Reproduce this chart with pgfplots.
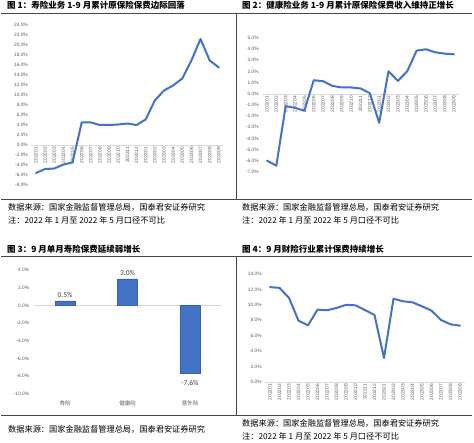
\documentclass[border=0pt]{standalone}
\usepackage{fontspec}
\usepackage{pgfplots}
\pgfplotsset{compat=1.18}
\setmainfont{Liberation Serif}
\newfontfamily\cjk{Noto Sans CJK SC}
\newfontfamily\tickf{Liberation Sans}
\newfontfamily\lblf{Carlito}
\definecolor{lineblue}{RGB}{68,114,196}
\definecolor{tickgray}{RGB}{89,89,89}
\definecolor{zerogray}{RGB}{217,217,217}
\definecolor{framegray}{RGB}{70,70,70}
\definecolor{lblgray}{RGB}{64,64,64}

\pgfplotsset{
  panel/.style={
    scale only axis, anchor=south west,
    axis x line*=middle, axis y line*=left,
    x axis line style={draw=zerogray, line width=0.6pt},
    y axis line style={draw=none},
    major tick length=0pt,
    tick label style={font=\tickf\fontsize{4.8}{5}\selectfont, text=tickgray},
    yticklabel style={inner sep=0pt, anchor=east, xshift=-3.5pt},
    xticklabel style={rotate=90, anchor=east, inner sep=2pt},
    xmin=-0.5, xmax=20.5,
    xtick={0,...,20},
    xticklabels={202201,202202,202203,202204,202205,202206,202207,202208,202209,202210,202211,202212,202301,202302,202303,202304,202305,202306,202307,202308,202309},
  },
  ser/.style={lineblue, line width=2pt, line join=round, line cap=round, mark=none},
}

\begin{document}
\begin{tikzpicture}[x=1pt,y=1pt]
\path[use as bounding box] (0,0) rectangle (474,442);

% frames
\draw[framegray, line width=0.8pt] (1,429) -- (472,429);
\draw[framegray, line width=0.8pt] (1,243) -- (472,243);
\draw[framegray, line width=0.8pt] (236.5,429) -- (236.5,243);
\draw[framegray, line width=0.8pt] (1,185.5) -- (472,185.5);
\draw[framegray, line width=0.8pt] (1,27) -- (472,27);
\draw[framegray, line width=0.8pt] (236.5,185.5) -- (236.5,27);

% titles
\node[anchor=west, inner sep=0pt, font=\cjk\bfseries\fontsize{8.5}{9}\selectfont] at (7,436.5) {图 1：寿险业务 1-9 月累计原保险保费边际回落};
\node[anchor=west, inner sep=0pt, font=\cjk\bfseries\fontsize{8.5}{9}\selectfont] at (242,436.5) {图 2：健康险业务 1-9 月累计原保险保费收入维持正增长};
\node[anchor=west, inner sep=0pt, font=\cjk\bfseries\fontsize{8.5}{9}\selectfont] at (7,193) {图 3：9 月单月寿险保费延续弱增长};
\node[anchor=west, inner sep=0pt, font=\cjk\bfseries\fontsize{8.5}{9}\selectfont] at (242,193) {图 4：9 月财险行业累计保费持续增长};

% sources
\node[anchor=west, inner sep=0pt, font=\cjk\fontsize{8.2}{9}\selectfont] at (8,235) {数据来源：国家金融监督管理总局，国泰君安证券研究};
\node[anchor=west, inner sep=0pt, font=\cjk\fontsize{8.2}{9}\selectfont] at (8,222) {注：2022 年 1 月至 2022 年 5 月口径不可比};
\node[anchor=west, inner sep=0pt, font=\cjk\fontsize{8.2}{9}\selectfont] at (242,235) {数据来源：国家金融监督管理总局，国泰君安证券研究};
\node[anchor=west, inner sep=0pt, font=\cjk\fontsize{8.2}{9}\selectfont] at (242,222) {注：2022 年 1 月至 2022 年 5 月口径不可比};
\node[anchor=west, inner sep=0pt, font=\cjk\fontsize{8.2}{9}\selectfont] at (8,13) {数据来源：国家金融监督管理总局，国泰君安证券研究};
\node[anchor=west, inner sep=0pt, font=\cjk\fontsize{8.2}{9}\selectfont] at (242,19) {数据来源：国家金融监督管理总局，国泰君安证券研究};
\node[anchor=west, inner sep=0pt, font=\cjk\fontsize{8.2}{9}\selectfont] at (242,6) {注：2022 年 1 月至 2022 年 5 月口径不可比};

% Panel 1
\begin{axis}[panel, at={(31.4pt,257pt)}, width=192pt, height=160pt,
  ymin=-8, ymax=24, ytick={-8,-6,...,24},
  yticklabels={-8.0\%,-6.0\%,-4.0\%,-2.0\%,0.0\%,2.0\%,4.0\%,6.0\%,8.0\%,10.0\%,12.0\%,14.0\%,16.0\%,18.0\%,20.0\%,22.0\%,24.0\%}]
\addplot[ser] coordinates {
(0,-5.6) (1,-4.8) (2,-4.7) (3,-3.9) (4,-3.5) (5,4.5) (6,4.5) (7,4.0) (8,4.0) (9,4.1) (10,4.3) (11,4.0)
(12,5.1) (13,8.9) (14,10.9) (15,11.9) (16,13.3) (17,16.9) (18,21.2) (19,16.9) (20,15.5)};
\end{axis}

% Panel 2
\begin{axis}[panel, at={(262.3pt,270pt)}, width=196.35pt, height=134pt,
  ymin=-7, ymax=5, ytick={-7,...,5},
  yticklabels={-7.0\%,-6.0\%,-5.0\%,-4.0\%,-3.0\%,-2.0\%,-1.0\%,0.0\%,1.0\%,2.0\%,3.0\%,4.0\%,5.0\%}]
\addplot[ser] coordinates {
(0,-5.98) (1,-6.43) (2,-1.10) (3,-1.25) (4,-1.52) (5,1.22) (6,1.13) (7,0.71) (8,0.57) (9,0.57) (10,0.48) (11,0.06)
(12,-2.59) (13,2.02) (14,1.16) (15,2.02) (16,3.87) (17,3.99) (18,3.72) (19,3.60) (20,3.54)};
\end{axis}

% Panel 4
\begin{axis}[panel, at={(265.25pt,60pt)}, width=199.5pt, height=108pt,
  ymin=0, ymax=14, ytick={0,2,...,14},
  yticklabels={0.0\%,2.0\%,4.0\%,6.0\%,8.0\%,10.0\%,12.0\%,14.0\%}]
\addplot[ser] coordinates {
(0,12.3) (1,12.2) (2,10.9) (3,7.95) (4,7.35) (5,9.38) (6,9.3) (7,9.6) (8,10.0) (9,9.94) (10,9.33) (11,8.69)
(12,3.11) (13,10.8) (14,10.46) (15,10.33) (16,9.81) (17,9.25) (18,8.04) (19,7.48) (20,7.3)};
\end{axis}

% Panel 3
\begin{axis}[scale only axis, anchor=south west, at={(33.75pt,48pt)}, width=187.5pt, height=124pt,
  axis x line*=bottom, axis y line*=left,
  x axis line style={draw=none}, y axis line style={draw=none},
  major tick length=0pt,
  ybar, bar width=20pt, bar shift=0pt,
  xmin=-0.5, xmax=2.5, xtick={0,1,2},
  xticklabels={寿险,健康险,意外险},
  xticklabel style={font=\cjk\fontsize{5.5}{6}\selectfont, text=tickgray, inner sep=0pt, yshift=-7pt},
  ymin=-10, ymax=4, ytick={-10,-8,...,4},
  yticklabels={-10.0\%,-8.0\%,-6.0\%,-4.0\%,-2.0\%,0.0\%,2.0\%,4.0\%},
  yticklabel style={font=\tickf\fontsize{4.8}{5}\selectfont, text=tickgray, inner sep=0pt, anchor=east, xshift=-4.5pt},
  extra y ticks={0}, extra y tick labels={},
  extra y tick style={grid=major, major grid style={draw=zerogray, line width=0.6pt}},
  point meta=explicit symbolic,
  nodes near coords={\pgfplotspointmeta},
]
\addplot[fill=lineblue, draw=lineblue!85!black, line width=0.4pt,
  every node near coord/.style={font=\lblf\fontsize{7.5}{8}\selectfont, text=lblgray, anchor=south, inner sep=2.5pt, yshift=1pt}]
  coordinates {(0,0.5) [0.5\%] (1,3.0) [3.0\%]};
\addplot[fill=lineblue, draw=lineblue!85!black, line width=0.4pt,
  every node near coord/.style={font=\lblf\fontsize{7.5}{8}\selectfont, text=lblgray, anchor=north, inner sep=2.5pt, yshift=-5pt}]
  coordinates {(2,-7.6) [-7.6\%]};
\end{axis}
\end{tikzpicture}
\end{document}
